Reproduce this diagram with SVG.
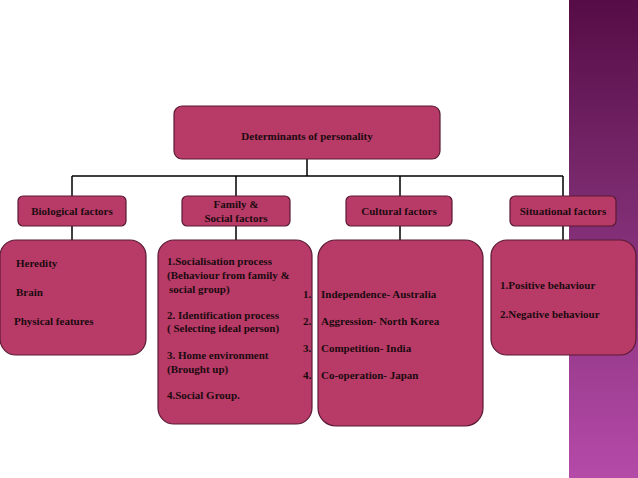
<svg xmlns="http://www.w3.org/2000/svg" width="638" height="478" viewBox="0 0 638 478">
<defs>
<linearGradient id="band" x1="0" y1="0" x2="0" y2="1">
<stop offset="0" stop-color="#560c46"/>
<stop offset="0.4" stop-color="#7a2a6e"/>
<stop offset="1" stop-color="#b54aa9"/>
</linearGradient>
<style>
.b{fill:#b83a66;stroke:#5a1a35;stroke-width:1.2}
.t{font-family:"Liberation Serif",serif;font-weight:bold;fill:#1a0a10;font-size:11px}
.c{stroke:#000;stroke-width:1.5;fill:none}
</style>
</defs>
<rect width="638" height="478" fill="#fff"/>
<rect x="569" y="0" width="69" height="478" fill="url(#band)"/>
<g id="connectors">
<path class="c" d="M307 159V176M72 176H563M72 176V196M236 176V196M400 176V196M563 176V196M72 226V240M236 226V240M400 226V240M563 226V240"/>
</g>
<g id="top"><rect class="b" x="174" y="106" width="266" height="53" rx="8"/>
<text class="t" x="307" y="140" text-anchor="middle" font-size="17">Determinants of personality</text></g>
<g id="bio"><rect class="b" x="18" y="196" width="108" height="30" rx="5"/>
<text class="t" x="72" y="215" text-anchor="middle">Biological factors</text></g>
<g id="family"><rect class="b" x="182" y="196" width="108" height="30" rx="5"/>
<text class="t" x="236" y="208" text-anchor="middle">Family &amp;</text>
<text class="t" x="236" y="222" text-anchor="middle">Social factors</text></g>
<g id="cultural"><rect class="b" x="346" y="196" width="106" height="30" rx="5"/>
<text class="t" x="399" y="215" text-anchor="middle">Cultural factors</text></g>
<g id="situational"><rect class="b" x="510" y="196" width="106" height="30" rx="5"/>
<text class="t" x="563" y="215" text-anchor="middle">Situational factors</text></g>
<g id="bio-list"><rect class="b" x="0" y="240" width="146" height="115" rx="16"/>
<text class="t" x="16" y="267">Heredity</text>
<text class="t" x="16" y="296">Brain</text>
<text class="t" x="14" y="325">Physical features</text></g>
<g id="family-list"><rect class="b" x="158" y="240" width="154" height="184" rx="16"/>
<text class="t" x="167" y="265">1.Socialisation process</text>
<text class="t" x="167" y="279">(Behaviour from family &amp;</text>
<text class="t" x="169" y="293">social  group)</text>
<text class="t" x="167" y="319">2. Identification process</text>
<text class="t" x="167" y="332">( Selecting ideal person)</text>
<text class="t" x="167" y="359">3. Home environment</text>
<text class="t" x="167" y="373">(Brought up)</text>
<text class="t" x="167" y="399">4.Social Group.</text></g>
<g id="cultural-list"><rect class="b" x="318" y="240" width="165" height="186" rx="18"/>
<text class="t" x="303" y="298">1.</text><text class="t" x="321" y="298">Independence- Australia</text>
<text class="t" x="303" y="325">2.</text><text class="t" x="321" y="325">Aggression- North Korea</text>
<text class="t" x="303" y="352">3.</text><text class="t" x="321" y="352">Competition- India</text>
<text class="t" x="303" y="379">4.</text><text class="t" x="321" y="379">Co-operation- Japan</text></g>
<g id="sit-list"><rect class="b" x="491" y="240" width="145" height="115" rx="16"/>
<text class="t" x="500" y="289">1.Positive behaviour</text>
<text class="t" x="500" y="318">2.Negative behaviour</text></g>
</svg>
